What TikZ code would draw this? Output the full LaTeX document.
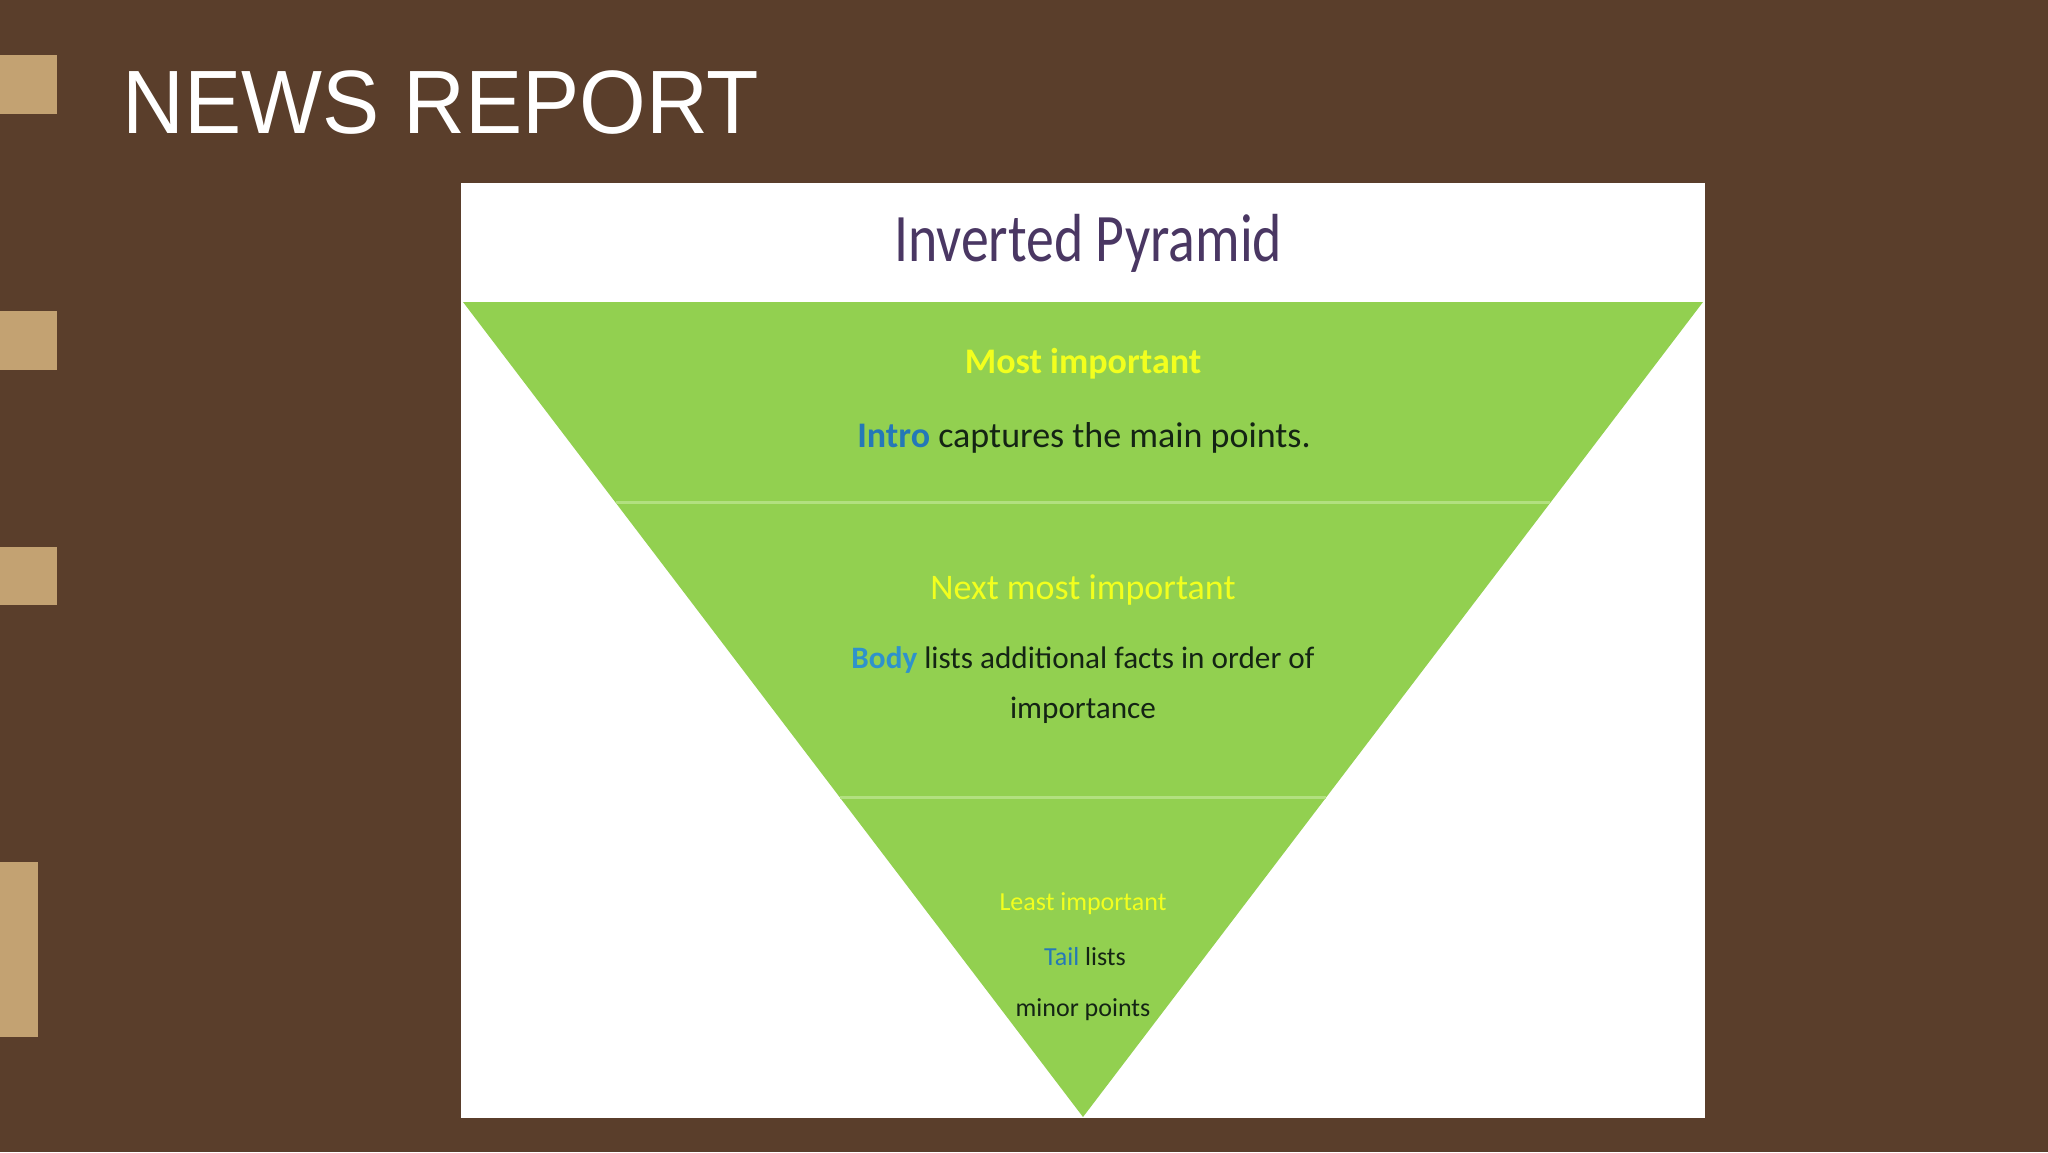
\documentclass[tikz,border=0pt]{standalone}
\usepackage{fontspec}
\setmainfont{Carlito}
\newfontfamily\headfont{Liberation Sans}
\usetikzlibrary{positioning,calc}
\definecolor{slidebrown}{HTML}{5A3E2B}
\definecolor{slidetan}{HTML}{C3A272}
\definecolor{pyrgreen}{HTML}{92D050}
\definecolor{pyrline}{HTML}{B2E080}
\definecolor{pyrtitle}{HTML}{4A3763}
\definecolor{keyyellow}{HTML}{F2FF1E}
\definecolor{keyblue}{HTML}{2478B8}
\definecolor{bodyblue}{HTML}{2E92CC}
\definecolor{darktext}{HTML}{142414}

\begin{document}
\begin{tikzpicture}[x=0.5pt, y=-0.5pt,
  tab/.style={fill=slidetan, draw=none},
  level/.style={font=\fontsize{18}{21}\selectfont, text=darktext, align=center, inner sep=0pt},
  heading/.style={font=\fontsize{18}{21}\selectfont, text=keyyellow, inner sep=0pt}]
% slide background
\fill[slidebrown] (0,0) rectangle (2048,1152);
\useasboundingbox (0,0) rectangle (2048,1152);
% side tabs
\fill[tab] (0,55) rectangle (57,114);
\fill[tab] (0,311) rectangle (57,370);
\fill[tab] (0,547) rectangle (57,605);
\fill[tab] (0,862) rectangle (38,1037);
% slide title
\node[font=\headfont\fontsize{45}{54}\selectfont, text=white, anchor=base west, inner sep=0pt, xscale=0.953]
  (slidetitle) at (122,133) {NEWS REPORT};
% picture panel
\fill[white] (461,183) rectangle (1705,1118);
\node[font=\fontsize{34}{40}\selectfont, text=pyrtitle, anchor=base, inner sep=0pt, xscale=0.82]
  (pyrhead) at (1088,261) {Inverted Pyramid};
% pyramid
\coordinate (tl) at (463,302);
\coordinate (tr) at (1703,302);
\coordinate (apex) at (1083,1117);
\fill[pyrgreen] (tl) -- (tr) -- (apex) -- cycle;
\draw[pyrline, line width=1.5pt] ($(tl)!0.2466!(apex)$) -- ($(tr)!0.2466!(apex)$);
\draw[pyrline, line width=1.5pt] ($(tl)!0.6074!(apex)$) -- ($(tr)!0.6074!(apex)$);
% top level
\node[heading, font=\bfseries\fontsize{18}{21}\selectfont] (mostimp) at (1083,364) {Most important};
\node[level] (intro) at (1084,438) {\textcolor{keyblue}{\bfseries Intro} captures the main points.};
% middle level
\node[heading] (nextimp) at (1083,590) {Next most important};
\node[level, font=\fontsize{15.6}{25}\selectfont] (body) at (1083,685)
  {\textcolor{bodyblue}{\bfseries Body} lists additional facts in order of\\importance};
% bottom level
\node[heading, font=\fontsize{13}{15}\selectfont] (leastimp) at (1083,904) {Least important};
\node[level, font=\fontsize{13}{15}\selectfont] (tail) at (1085,957) {\textcolor{keyblue}{Tail} lists};
\node[level, font=\fontsize{13}{15}\selectfont] (minor) at (1083,1010) {minor points};
\end{tikzpicture}
\end{document}
